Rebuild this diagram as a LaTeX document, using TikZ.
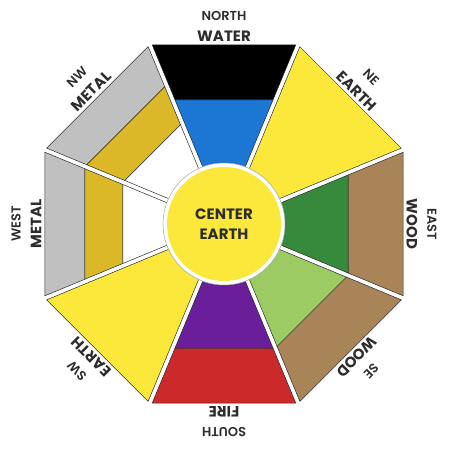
\documentclass[tikz,border=0pt]{standalone}
\usepackage{fontspec}
\setmainfont{Poppins}
\newfontfamily\dirfont{Poppins SemiBold}
\usepackage{tikz}

\definecolor{bgblack}{RGB}{0,0,0}
\definecolor{bgblue}{RGB}{28,118,212}
\definecolor{bgyellow}{RGB}{252,232,58}
\definecolor{bggold}{RGB}{219,184,40}
\definecolor{bggray}{RGB}{192,192,192}
\definecolor{bgbrown}{RGB}{168,132,88}
\definecolor{bggreen}{RGB}{55,138,60}
\definecolor{bglime}{RGB}{156,203,100}
\definecolor{bgpurple}{RGB}{106,30,154}
\definecolor{bgred}{RGB}{204,42,42}
\definecolor{inkgray}{RGB}{45,45,45}

\tikzset{
  edge/.style={draw=inkgray, line width=0.5pt},
  elemlabel/.style={text=inkgray, font=\bfseries\fontsize{15}{15}\selectfont, inner sep=0pt},
  dirlabel/.style={text=inkgray, font=\dirfont\fontsize{13}{13}\selectfont, inner sep=0pt}
}

%% one trapezoid band of a sector, between two apothem levels
\newcommand{\gapd}{2.4}
\newcommand{\band}[4]{%
  \begin{scope}[rotate=#1]
    \pgfmathsetmacro{\wa}{#2*0.41421-\gapd}
    \pgfmathsetmacro{\wb}{#3*0.41421-\gapd}
    \draw[edge, fill=#4] (#2,-\wa) -- (#3,-\wb) -- (#3,\wb) -- (#2,\wa) -- cycle;
  \end{scope}}

\begin{document}
\begin{tikzpicture}[x=1pt, y=1pt]
    %%Background
    \useasboundingbox (-224,-226) rectangle (226,224);
    \fill[white] (-224,-226) rectangle (226,224);

    %% Sectors
    \foreach \ang/\lo/\hi/\col in {
      90/124/179/bgblack, 90/40/124/bgblue,
      45/40/179/bgyellow,
      0/124/179/bgbrown, 0/40/124/bggreen,
      -45/124/179/bgbrown, -45/40/124/bglime,
      -90/124/179/bgred, -90/40/124/bgpurple,
      -135/40/179/bgyellow,
      180/139/179/bggray, 180/101/139/bggold, 180/40/101/white,
      135/139/179/bggray, 135/101/139/bggold, 135/40/101/white}
    {
    \band{\ang}{\lo}{\hi}{\col}
    }

    %% Center
    \draw[draw=gray!70, fill=white, line width=0.5pt] (0,0) circle (61);
    \fill[bgyellow] (0,0) circle (57);
    \node[elemlabel, align=center] (center) at (0,0) {CENTER\\[5pt]EARTH};

    %% Labels
    \foreach \ang/\dir/\elem in {90/NORTH/WATER, 45/NE/EARTH, 0/EAST/WOOD,
      -45/SE/WOOD, -90/SOUTH/FIRE, -135/SW/EARTH, 180/WEST/METAL, 135/NW/METAL}
    {
    \node[elemlabel, rotate=\ang-90] (elem-\dir) at (\ang:188) {\elem};
    \node[dirlabel, rotate=\ang-90] (dir-\dir) at (\ang:208) {\dir};
    }
\end{tikzpicture}
\end{document}
